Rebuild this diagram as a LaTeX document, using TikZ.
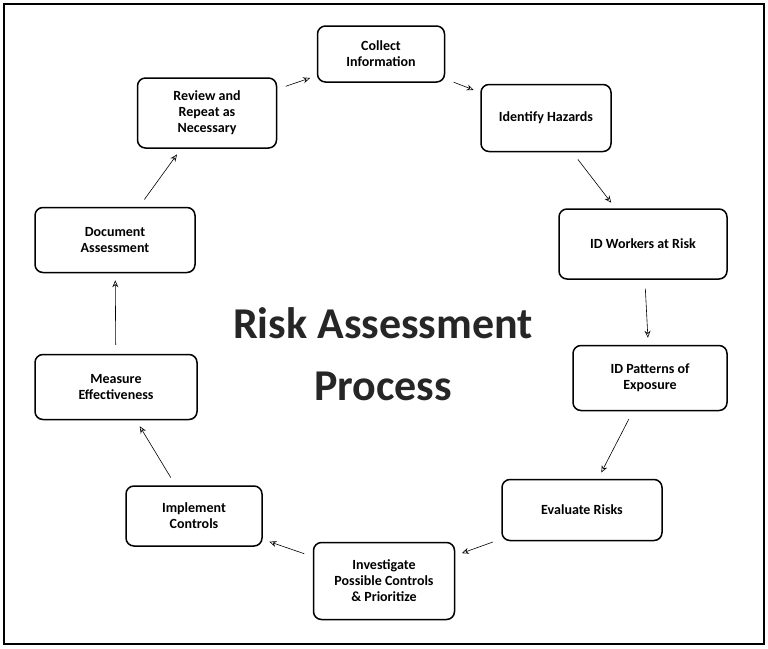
\documentclass[tikz,border=0pt]{standalone}
\usepackage{fontspec}
\setmainfont{Carlito}
\usetikzlibrary{arrows.meta}
\begin{document}
\begin{tikzpicture}[x=1pt, y=-1pt,
    stage/.style={draw, line width=1.5pt, rounded corners=8pt, align=center,
      font=\bfseries\fontsize{14}{16}\selectfont, inner sep=0pt},
    flow/.style={-{Stealth[open, length=7pt, width=6pt]}, line width=0.6pt,
      shorten <=9pt, shorten >=7pt}]
  \useasboundingbox (0,0) rectangle (768,648);
  \draw[line width=2pt] (4,4) rectangle (764,644);

  \node[stage, minimum width=127pt, minimum height=56pt] (collect) at (381,54) {Collect\\Information};
  \node[stage, minimum width=130pt, minimum height=67pt] (hazards) at (546,118) {Identify Hazards};
  \node[stage, minimum width=168pt, minimum height=70pt] (workers) at (643,244) {ID Workers at Risk};
  \node[stage, minimum width=154pt, minimum height=65pt] (patterns) at (650,378) {ID Patterns of\\Exposure};
  \node[stage, minimum width=160pt, minimum height=61pt] (evaluate) at (582,510) {Evaluate Risks};
  \node[stage, minimum width=141pt, minimum height=77pt] (investigate) at (384,581) {Investigate\\Possible Controls\\\& Prioritize};
  \node[stage, minimum width=136pt, minimum height=60pt] (implement) at (194,516) {Implement\\Controls};
  \node[stage, minimum width=162pt, minimum height=65pt] (measure) at (116,387) {Measure\\Effectiveness};
  \node[stage, minimum width=160pt, minimum height=65pt] (document) at (115,240) {Document\\Assessment};
  \node[stage, minimum width=139pt, minimum height=70pt] (review) at (207,113) {Review and\\Repeat as\\Necessary};

  \node[align=center, font=\bfseries\fontsize{44}{62}\selectfont, text=black!85] (title) at (383,354)
    {Risk Assessment\\Process};

  % cycle
  \draw[flow] (review) -- (collect);
  \draw[flow] (collect) -- (hazards);
  \draw[flow] (hazards) -- (workers);
  \draw[flow] (workers) -- (patterns);
  \draw[flow] (patterns) -- (evaluate);
  \draw[flow] (evaluate) -- (investigate);
  \draw[flow] (investigate) -- (implement);
  \draw[flow] (implement) -- (measure);
  \draw[flow] (measure) -- (document);
  \draw[flow] (document) -- (review);
\end{tikzpicture}
\end{document}
